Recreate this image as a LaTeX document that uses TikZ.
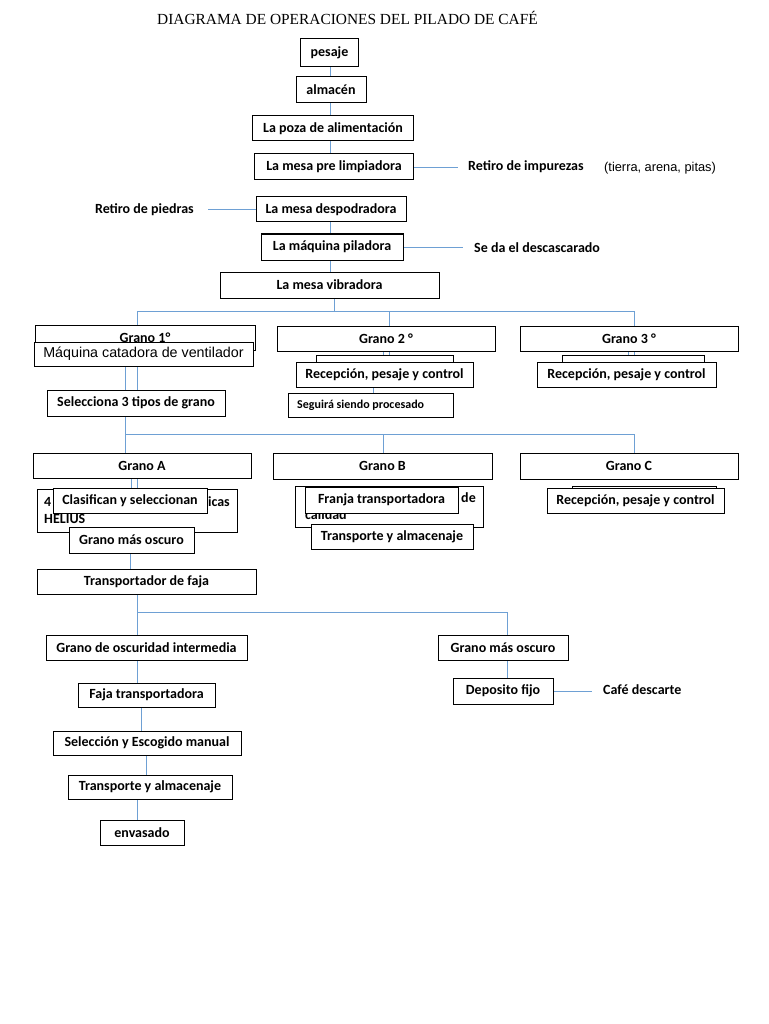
\documentclass[tikz,border=0pt]{standalone}
\usepackage{fontspec}
\setmainfont{Carlito}
\newfontfamily\arialf{Liberation Sans}
\newfontfamily\timesf{Liberation Serif}
\usetikzlibrary{calc}
\definecolor{linec}{RGB}{110,160,212}
\pgfdeclarelayer{paper}
\pgfdeclarelayer{lines}
\pgfsetlayers{paper,lines,main}
\tikzset{
  bx/.style={draw=black, line width=1pt, fill=white, inner sep=0pt, font=\bfseries\fontsize{14}{16}\selectfont},
  ebox/.style={draw=black, line width=1pt, fill=white, inner sep=0pt},
  lab/.style={inner sep=0pt, font=\bfseries\fontsize{14}{16}\selectfont},
  conn/.style={draw=linec, line width=0.8pt},
}
\begin{document}
\begin{tikzpicture}[x=1pt,y=-1pt]
\begin{pgfonlayer}{paper}
\useasboundingbox[fill=white] (0,0) rectangle (768,1024);
\end{pgfonlayer}
% title
\node[inner sep=0pt, font=\timesf\fontsize{15.4}{17}\selectfont] (title) at (347.5,18) {DIAGRAMA DE OPERACIONES DEL PILADO DE CAFÉ};
% main chain
\node[bx, minimum width=58pt, minimum height=28pt] (pesaje) at (329.5,52.5) {pesaje};
\node[bx, minimum width=70pt, minimum height=26pt] (almacen) at (331,90) {almacén};
\node[bx, minimum width=161pt, minimum height=25pt] (poza) at (333,128.5) {La poza de alimentación};
\node[bx, minimum width=159pt, minimum height=26pt] (prelimp) at (334,167) {La mesa pre limpiadora};
\node[bx, minimum width=150pt, minimum height=25pt] (despod) at (331,209.5) {La mesa despodradora};
\node[bx, minimum width=142pt, minimum height=26pt] (pilad) at (332,247) {La máquina piladora};
\node[bx, minimum width=219pt, minimum height=26pt] (vibr) at (329.5,285) {La mesa vibradora};
% side labels
\node[lab, anchor=west] (impur) at (468,167) {Retiro de impurezas};
\node[inner sep=0pt, anchor=west, font=\arialf\fontsize{12.8}{15}\selectfont] (tierra) at (604,168) {(tierra, arena, pitas)};
\node[lab, anchor=east] (piedras) at (194,210) {Retiro de piedras};
\node[lab, anchor=west] (descasc) at (474,248) {Se da el descascarado};
% level 1
\node[bx, minimum width=220pt, minimum height=25pt] (g1) at (145,337.5) {Grano 1°};
\node[ebox, minimum width=219pt, minimum height=24pt, font=\arialf\fontsize{14.3}{16}\selectfont] (catad) at (143.5,354) {Máquina catadora de ventilador};
\node[bx, minimum width=178pt, minimum height=26pt] (selec) at (136,403) {Selecciona 3 tipos de grano};
\node[bx, minimum width=218pt, minimum height=25pt] (g2) at (386,338.5) {Grano 2 °};
\node[ebox, minimum width=137pt, minimum height=20pt] (under2) at (384.5,365) {};
\node[bx, minimum width=177pt, minimum height=25pt] (rec2) at (384.5,374.5) {Recepción, pesaje y control};
\node[ebox, minimum width=165pt, minimum height=24pt] (seg) at (370.5,405) {};
\node[inner sep=0pt, anchor=west, font=\bfseries\fontsize{12}{14}\selectfont] (segt) at (297,405) {Seguirá siendo procesado};
\node[bx, minimum width=218pt, minimum height=25pt] (g3) at (629,338.5) {Grano 3 °};
\node[ebox, minimum width=142pt, minimum height=20pt] (under3) at (633,365) {};
\node[bx, minimum width=179pt, minimum height=25pt] (rec3) at (626.5,374.5) {Recepción, pesaje y control};
% level 2
\node[bx, minimum width=218pt, minimum height=25pt] (gA) at (142,465.5) {Grano A};
\node[ebox, minimum width=200pt, minimum height=43pt] (helius) at (137,510.5) {};
\node[lab, anchor=west] (h4) at (44,502) {4};
\node[lab, anchor=east] (hicas) at (230,502) {icas};
\node[lab, anchor=west] (hhel) at (44,519) {HELIUS};
\node[bx, minimum width=154pt, minimum height=25pt] (clasif) at (130,500.5) {Clasifican y seleccionan};
\node[bx, minimum width=125pt, minimum height=26pt] (gmoA) at (131.5,540) {Grano más oscuro};
\node[bx, minimum width=219pt, minimum height=26pt] (gB) at (382.5,466) {Grano B};
\node[ebox, minimum width=188pt, minimum height=41pt] (underB) at (389,506.5) {};
\node[lab, anchor=east] (bde) at (476,498) {de};
\node[lab, anchor=west] (bcal) at (305,515) {calidad};
\node[bx, minimum width=153pt, minimum height=26pt] (franja) at (381.5,500) {Franja transportadora};
\node[bx, minimum width=162pt, minimum height=25pt] (transB) at (392,536.5) {Transporte y almacenaje};
\node[bx, minimum width=218pt, minimum height=26pt] (gC) at (629,466) {Grano C};
\node[ebox, minimum width=144pt, minimum height=14pt] (underC) at (644,493) {};
\node[bx, minimum width=177pt, minimum height=25pt] (recC) at (635.5,500.5) {Recepción, pesaje y control};
% lower part
\node[bx, minimum width=219pt, minimum height=25pt] (transfaja) at (146.5,581.5) {Transportador de faja};
\node[bx, minimum width=201pt, minimum height=25pt] (gOsc) at (146.5,647.5) {Grano de oscuridad intermedia};
\node[bx, minimum width=137pt, minimum height=24pt] (faja) at (146.5,695) {Faja transportadora};
\node[bx, minimum width=188pt, minimum height=24pt] (selman) at (147,743) {Selección y Escogido manual};
\node[bx, minimum width=164pt, minimum height=24pt] (transp) at (150,787) {Transporte y almacenaje};
\node[bx, minimum width=84pt, minimum height=25pt] (envas) at (142,832.5) {envasado};
\node[bx, minimum width=130pt, minimum height=25pt] (gmoR) at (503,647.5) {Grano más oscuro};
\node[bx, minimum width=100pt, minimum height=26pt] (depos) at (503,691) {Deposito fijo};
\node[lab, anchor=west] (descarte) at (603,690) {Café descarte};
% junctions
\coordinate (b1m) at (334,311);
\coordinate (b1l) at (137,311);
\coordinate (b1c) at (389,311);
\coordinate (b1r) at (634,311);
\coordinate (b2l) at (125,434);
\coordinate (b2c) at (383,434);
\coordinate (b2r) at (634,434);
\coordinate (b3l) at (137,612);
\coordinate (b3r) at (507,612);
\coordinate (xA) at (131,0);
\coordinate (x2) at (383,0);
\coordinate (x2s) at (373,0);
\coordinate (x3) at (628,0);
\coordinate (xf) at (141,0);
\coordinate (xs) at (146,0);
\coordinate (xm) at (130,0);
\coordinate (xc) at (330,0);
\begin{pgfonlayer}{lines}
\draw[conn] (pesaje.south -| xc) -- (xc |- almacen.north);
\draw[conn] (almacen.south -| xc) -- (xc |- poza.north);
\draw[conn] (poza.south -| xc) -- (xc |- prelimp.north);
\draw[conn] (despod.south -| xc) -- (xc |- pilad.north);
\draw[conn] (pilad.south -| xc) -- (xc |- vibr.north);
\draw[conn, shorten >=10pt] (prelimp.east) -- (impur.west |- prelimp.east);
\draw[conn, shorten >=14pt] (despod.west) -- (piedras.east |- despod.west);
\draw[conn, shorten >=11pt] (pilad.east) -- (descasc.west |- pilad.east);
\draw[conn] (vibr.south -| b1m) -- (b1m);
\draw[conn] (b1l) -- (b1r);
\draw[conn] (b1l) -- (b1l |- g1.north);
\draw[conn] (b1c) -- (b1c |- g2.north);
\draw[conn] (b1r) -- (b1r |- g3.north);
\draw[conn] (catad.south -| b1l) -- (b1l |- selec.north);
\draw[conn] (catad.south -| b2l) -- (b2l |- selec.north);
\draw[conn] (selec.south -| b2l) -- (b2l);
\draw[conn] (b2l) -- (b2r);
\draw[conn] (b2l) -- (b2l |- gA.north);
\draw[conn] (b2c) -- (b2c |- gB.north);
\draw[conn] (b2r) -- (b2r |- gC.north);
\draw[conn] (gA.south -| xA) -- (xA |- clasif.north);
\draw[conn] (gA.south -| b1l) -- (b1l |- clasif.north);
\draw[conn] (gmoA.south -| xm) -- (xm |- transfaja.north);
\draw[conn] (g2.south -| x2) -- (x2 |- rec2.north);
\draw[conn] (g2.south -| b1c) -- (b1c |- rec2.north);
\draw[conn] (rec2.south -| x2s) -- (x2s |- seg.north);
\draw[conn] (g3.south -| x3) -- (x3 |- rec3.north);
\draw[conn] (g3.south -| b1r) -- (b1r |- rec3.north);
\draw[conn] (transfaja.south -| b3l) -- (b3l);
\draw[conn] (b3l) -- (b3r);
\draw[conn] (b3l) -- (b3l |- gOsc.north);
\draw[conn] (b3r) -- (b3r |- gmoR.north);
\draw[conn] (gOsc.south -| b3l) -- (b3l |- faja.north);
\draw[conn] (faja.south -| xf) -- (xf |- selman.north);
\draw[conn] (selman.south -| xs) -- (xs |- transp.north);
\draw[conn] (transp.south -| b3l) -- (b3l |- envas.north);
\draw[conn] (gmoR.south -| b3r) -- (b3r |- depos.north);
\draw[conn, shorten >=11pt] (depos.east) -- (descarte.west |- depos.east);
\end{pgfonlayer}
\end{tikzpicture}
\end{document}
